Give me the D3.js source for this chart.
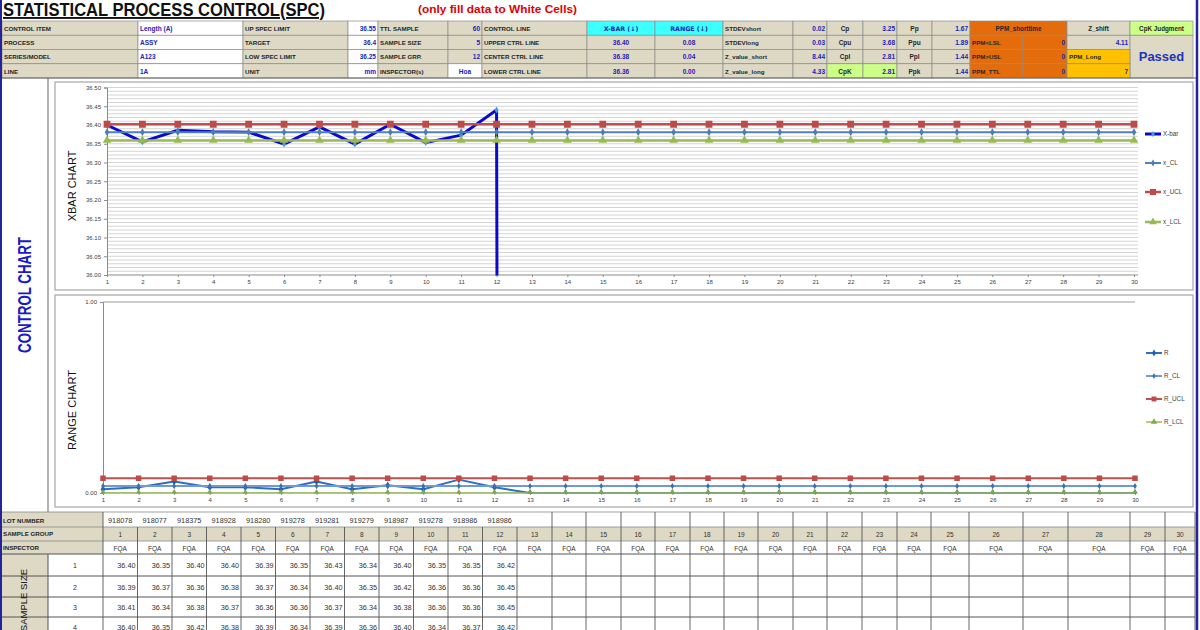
<!DOCTYPE html>
<html><head><meta charset="utf-8">
<script src="https://cdn.jsdelivr.net/npm/d3@7"></script>
<style>
body{margin:0;background:#fff}
svg{display:block}
text{font-family:"Liberation Sans",Arial,sans-serif}
</style>
</head><body>
<svg id="c" width="1200" height="630"></svg>
<script>
// ---------------- DATA ----------------
const groups = d3.range(1, 31);
const xbarValues = [36.400, 36.355, 36.386, 36.382, 36.381, 36.349, 36.395, 36.349, 36.402, 36.353, 36.373, 36.440,
  0, 0, 0, 0, 0, 0, 0, 0, 0, 0, 0, 0, 0, 0, 0, 0, 0, 0];
const xbarCL = 36.381, xbarUCL = 36.402, xbarLCL = 36.359;
const rangeValues = [0.02, 0.03, 0.06, 0.03, 0.03, 0.02, 0.06, 0.02, 0.04, 0.02, 0.07, 0.03,
  0, 0, 0, 0, 0, 0, 0, 0, 0, 0, 0, 0, 0, 0, 0, 0, 0, 0];
const rangeCL = 0.036, rangeUCL = 0.077, rangeLCL = 0;
const xbarTicks = [36.00, 36.05, 36.10, 36.15, 36.20, 36.25, 36.30, 36.35, 36.40, 36.45, 36.50];
const rangeTicks = [0.00, 1.00];
const xbarLegend = ["X-bar", "x_CL", "x_UCL", "x_LCL"];
const rangeLegend = ["R", "R_CL", "R_UCL", "R_LCL"];
const lotNumbers = ["918078","918077","918375","918928","918280","919278","919281","919279","918987","919278","918986","918986"];
const inspectors = Array(30).fill("FQA");
const sampleRows = [
  [36.40, 36.35, 36.40, 36.40, 36.39, 36.35, 36.43, 36.34, 36.40, 36.35, 36.35, 36.42],
  [36.39, 36.37, 36.36, 36.38, 36.37, 36.34, 36.40, 36.35, 36.42, 36.36, 36.36, 36.45],
  [36.41, 36.34, 36.38, 36.37, 36.36, 36.36, 36.37, 36.34, 36.38, 36.36, 36.36, 36.45],
  [36.40, 36.35, 36.42, 36.38, 36.39, 36.34, 36.39, 36.36, 36.40, 36.34, 36.37, 36.42]
];
const headerRow1 = ["CONTROL ITEM","Length  (A)","UP SPEC LIMIT","36.55","TTL SAMPLE","60","CONTROL LINE","X-BAR (\u2193)","RANGE (\u2193)","STDEVshort","0.02","Cp","3.25","Pp","1.67","PPM_shorttime",null,"Z_shift","CpK Judgment"];
const headerRow2 = ["PROCESS","ASSY","TARGET","36.4","SAMPLE SIZE","5","UPPER CTRL LINE","36.40","0.08","STDEVlong","0.03","Cpu","3.68","Ppu","1.89","PPM<LSL","0","4.11","Passed"];
const headerRow3 = ["SERIES/MODEL","A123","LOW SPEC LIMIT","36.25","SAMPLE GRP.","12","CENTER CTRL LINE","36.38","0.04","Z_value_short","8.44","Cpl","2.81","Ppl","1.44","PPM>USL","0","PPM_Long",null];
const headerRow4 = ["LINE","1A","UNIT","mm","INSPECTOR(s)","Hoa","LOWER CTRL LINE","36.36","0.00","Z_value_long","4.33","CpK","2.81","Ppk","1.44","PPM_TTL","0","7",null];

// ---------------- LAYOUT / STYLE ----------------
const svg = d3.select("#c");
const BEIGE = "#DDD9C4", CYAN = "#3CFFFF", ORANGE = "#E46C0A", YELLOW = "#FFC000", LGREEN = "#CCFF88";
const VBLUE = "#2222B8", DARK = "#262626";
const C_BLUE = "#4F81BD", C_RED = "#C0504D", C_GREEN = "#9BBB59";

// Title
svg.append("text").attr("x", 3).attr("y", 16).attr("font-size", 19).attr("font-weight", "bold")
  .attr("fill", "#111").attr("text-decoration", "underline")
  .attr("textLength", 322).attr("lengthAdjust", "spacingAndGlyphs")
  .text("STATISTICAL PROCESS CONTROL(SPC)");
svg.append("text").attr("x", 418).attr("y", 13).attr("font-size", 11.5).attr("font-weight", "bold")
  .attr("fill", "#E00000").attr("textLength", 159).attr("lengthAdjust", "spacingAndGlyphs")
  .text("(only fill data to White Cells)");

// Header table
const colX = [2,138,243,348,378,448,482,587,655,723,793,827,863,897,932,970,1023,1067,1130,1193];
const rowY = [21, 35.25, 49.5, 63.75, 78];
const headerRows = [headerRow1, headerRow2, headerRow3, headerRow4];

function cellStyle(r, c) {
  const lab = {fill: BEIGE, color: DARK, anchor: "start", size: 6.2};
  if ([0,2,4,6,9].includes(c)) return lab;
  if (c === 1) return {fill: "#fff", color: VBLUE, anchor: "start", size: 6.5};
  if (c === 3) return {fill: "#fff", color: VBLUE, anchor: "end", size: 6.5};
  if (c === 5) return r === 3 ? {fill: "#fff", color: VBLUE, anchor: "middle", size: 6.5}
                              : {fill: BEIGE, color: VBLUE, anchor: "end", size: 6.5};
  if (c === 7 || c === 8) return r === 0 ? {fill: CYAN, color: VBLUE, anchor: "middle", size: 6.3, font: "DejaVu Sans"}
                                         : {fill: BEIGE, color: VBLUE, anchor: "middle", size: 6.5};
  if (c === 10 || c === 14) return {fill: BEIGE, color: VBLUE, anchor: "end", size: 6.5};
  if (c === 11 || c === 13) return {fill: (r === 3 && c === 11) ? LGREEN : BEIGE, color: DARK, anchor: "middle", size: 6.5};
  if (c === 12) return {fill: r === 3 ? LGREEN : BEIGE, color: VBLUE, anchor: "end", size: 6.5};
  if (c === 15) return r === 0 ? {fill: ORANGE, color: DARK, anchor: "middle", size: 6.3, span: 2}
                               : {fill: ORANGE, color: DARK, anchor: "start", size: 6.2};
  if (c === 16) return {fill: ORANGE, color: VBLUE, anchor: "end", size: 6.5};
  if (c === 17) {
    if (r === 0) return {fill: BEIGE, color: DARK, anchor: "middle", size: 6.3};
    if (r === 1) return {fill: BEIGE, color: VBLUE, anchor: "end", size: 6.5};
    if (r === 2) return {fill: YELLOW, color: DARK, anchor: "start", size: 6.2};
    return {fill: YELLOW, color: VBLUE, anchor: "end", size: 6.5};
  }
  if (c === 18) return r === 0 ? {fill: LGREEN, color: DARK, anchor: "middle", size: 6.3}
                               : {fill: BEIGE, color: "#2233C0", anchor: "middle", size: 13, rspan: 3};
  return lab;
}

const hdr = svg.append("g");
headerRows.forEach((row, r) => {
  row.forEach((txt, c) => {
    if (txt === null) return;
    const s = cellStyle(r, c);
    const x0 = colX[c], x1 = colX[c + (s.span || 1)];
    const y0 = rowY[r], y1 = rowY[r + (s.rspan || 1)];
    hdr.append("rect").attr("x", x0).attr("y", y0).attr("width", x1 - x0).attr("height", y1 - y0)
      .attr("fill", s.fill).attr("stroke", "#8C8C8C").attr("stroke-width", 0.7);
    const tx = s.anchor === "start" ? x0 + 2 : s.anchor === "end" ? x1 - 2 : (x0 + x1) / 2;
    const ty = s.rspan ? (y0 + y1) / 2 + 4.5 : y0 + 9.8;
    const t = hdr.append("text").attr("x", tx).attr("y", ty).attr("text-anchor", s.anchor)
      .attr("font-size", s.size).attr("font-weight", "bold").attr("fill", s.color).text(txt);
    if (s.font) t.style("font-family", s.font);
  });
});

// Frame lines
svg.append("line").attr("x1", 0).attr("x2", 1196).attr("y1", 78).attr("y2", 78).attr("stroke", "#666").attr("stroke-width", 1);
svg.append("line").attr("x1", 48).attr("x2", 48).attr("y1", 78).attr("y2", 512).attr("stroke", "#666").attr("stroke-width", 1);
svg.append("text").attr("transform", "translate(31,295) rotate(-90)").attr("text-anchor", "middle")
  .attr("font-size", 19).attr("font-weight", "bold").attr("fill", "#1A1AC8")
  .attr("textLength", 116).attr("lengthAdjust", "spacingAndGlyphs").text("CONTROL CHART");

// ---------- generic chart drawer ----------
function drawChart(cfg) {
  const g = svg.append("g");
  g.append("rect").attr("x", cfg.box[0]).attr("y", cfg.box[1]).attr("width", cfg.box[2]).attr("height", cfg.box[3])
    .attr("fill", "#fff").attr("stroke", "#A6A6A6").attr("stroke-width", 1.2);
  const x = d3.scaleLinear().domain([1, 30]).range(cfg.xr);
  const y = d3.scaleLinear().domain(cfg.yd).range(cfg.yr);
  g.append("g").selectAll("line").data(cfg.grid).join("line")
    .attr("x1", cfg.xr[0]).attr("x2", cfg.plotRight).attr("y1", d => y(d)).attr("y2", d => y(d))
    .attr("stroke", cfg.gridColor).attr("stroke-width", 1);
  const ya = g.append("g").attr("transform", `translate(${cfg.xr[0]},0)`)
    .call(d3.axisLeft(y).tickValues(cfg.yTicks).tickFormat(d3.format(".2f")).tickSize(3).tickPadding(3));
  ya.select(".domain").attr("stroke", "#8C8C8C");
  ya.selectAll(".tick line").attr("stroke", "#8C8C8C");
  ya.selectAll("text").attr("font-size", 6).attr("fill", "#404040").attr("font-family", "Liberation Sans, Arial");
  const xa = g.append("g").attr("transform", `translate(0,${cfg.yr[0]})`)
    .call(d3.axisBottom(x).tickValues(groups).tickFormat(d3.format("d")).tickSize(2).tickPadding(3));
  xa.select(".domain").attr("stroke", "#8C8C8C").attr("d", `M${cfg.xr[0]},0H${cfg.plotRight}`);
  xa.selectAll(".tick line").attr("stroke", "#8C8C8C");
  xa.selectAll("text").attr("font-size", 6).attr("fill", "#404040").attr("font-family", "Liberation Sans, Arial");
  g.append("text").attr("transform", `translate(${cfg.titleX},${cfg.titleY}) rotate(-90)`).attr("text-anchor", "middle")
    .attr("font-size", 11).attr("fill", "#111").text(cfg.title);
  const cid = "clip" + cfg.title.replace(/\s/g, "");
  svg.append("clipPath").attr("id", cid).append("rect")
    .attr("x", cfg.xr[0] - 6).attr("y", cfg.yr[1] - 6).attr("width", cfg.plotRight - cfg.xr[0] + 12).attr("height", cfg.yr[0] - cfg.yr[1] + 6.5);
  const plot = g.append("g").attr("clip-path", `url(#${cid})`);
  const line = d3.line().x((d, i) => x(groups[i])).y(d => y(d));
  cfg.series.forEach(s => {
    plot.append("path").datum(s.values).attr("d", line).attr("fill", "none")
      .attr("stroke", s.color).attr("stroke-width", s.width).attr("stroke-linejoin", "round");
    plot.append("g").selectAll("path").data(s.values).join("path")
      .attr("transform", (d, i) => `translate(${x(groups[i])},${y(d)})`)
      .attr("d", d3.symbol().type(s.symbol).size(s.msize)).attr("fill", s.mcolor);
  });
  cfg.series.forEach((s, i) => {
    const ly = cfg.legendY[i];
    g.append("line").attr("x1", cfg.legendX).attr("x2", cfg.legendX + 16).attr("y1", ly).attr("y2", ly)
      .attr("stroke", s.color).attr("stroke-width", s.width);
    g.append("path").attr("transform", `translate(${cfg.legendX + 8},${ly})`)
      .attr("d", d3.symbol().type(s.symbol).size(s.msize * 0.8)).attr("fill", s.mcolor);
    g.append("text").attr("x", cfg.legendX + 18).attr("y", ly + 2).attr("font-size", 6.3).attr("fill", "#404040")
      .text(s.name);
  });
}

drawChart({
  box: [55, 82, 1138, 208], xr: [107, 1134], plotRight: 1138, yd: [36, 36.5], yr: [275, 87.5],
  grid: d3.range(1, 51).map(i => 36 + i * 0.01), gridColor: "#D4D4D4", yTicks: xbarTicks,
  title: "XBAR CHART", titleX: 76, titleY: 186,
  legendX: 1145, legendY: [134, 163, 192, 222],
  series: [
    {name: xbarLegend[0], values: xbarValues, color: "#0A0ACC", width: 3, symbol: d3.symbolDiamond, msize: 14, mcolor: "#4A9BE0"},
    {name: xbarLegend[1], values: groups.map(() => xbarCL), color: C_BLUE, width: 2, symbol: d3.symbolDiamond, msize: 18, mcolor: "#4A7EBB"},
    {name: xbarLegend[2], values: groups.map(() => xbarUCL), color: C_RED, width: 2.5, symbol: d3.symbolSquare, msize: 46, mcolor: "#BE4B48"},
    {name: xbarLegend[3], values: groups.map(() => xbarLCL), color: C_GREEN, width: 2.5, symbol: d3.symbolTriangle, msize: 32, mcolor: "#98B954"}
  ]
});

drawChart({
  box: [55, 295, 1138, 212], xr: [103, 1135], plotRight: 1135, yd: [0, 1], yr: [493, 302],
  grid: [1], gridColor: "#9A9A9A", yTicks: rangeTicks,
  title: "RANGE CHART", titleX: 76, titleY: 410,
  legendX: 1146, legendY: [353, 376, 399, 422],
  series: [
    {name: rangeLegend[0], values: rangeValues, color: "#2F6FC0", width: 2, symbol: d3.symbolDiamond, msize: 18, mcolor: "#1F5FAF"},
    {name: rangeLegend[1], values: groups.map(() => rangeCL), color: "#6F9BD0", width: 2, symbol: d3.symbolDiamond, msize: 12, mcolor: "#3F6FAF"},
    {name: rangeLegend[2], values: groups.map(() => rangeUCL), color: C_RED, width: 2, symbol: d3.symbolSquare, msize: 30, mcolor: "#BE4B48"},
    {name: rangeLegend[3], values: groups.map(() => rangeLCL), color: C_GREEN, width: 1.5, symbol: d3.symbolTriangle, msize: 22, mcolor: "#7FA848"}
  ]
});

// ---------------- Bottom table ----------------
const tcolX = d3.range(13).map(i => 103 + i * 34.5).concat([552, 586, 621, 655, 690, 724, 758, 793, 827, 862, 897, 931, 969, 1023, 1068, 1130, 1165, 1195]);
const trowY = [512, 527, 541, 554, 576, 597, 617, 637];
const tb = svg.append("g");
tb.append("rect").attr("x", 2).attr("y", trowY[0]).attr("width", 101).attr("height", trowY[1] - trowY[0]).attr("fill", BEIGE);
tb.append("rect").attr("x", 2).attr("y", trowY[1]).attr("width", 1193).attr("height", trowY[2] - trowY[1]).attr("fill", BEIGE);
tb.append("rect").attr("x", 2).attr("y", trowY[2]).attr("width", 101).attr("height", trowY[3] - trowY[2]).attr("fill", BEIGE);
tb.append("rect").attr("x", 2).attr("y", trowY[3]).attr("width", 46).attr("height", 640 - trowY[3]).attr("fill", BEIGE);
trowY.forEach((yy, i) => {
  tb.append("line").attr("x1", 2).attr("x2", 1195).attr("y1", yy).attr("y2", yy)
    .attr("stroke", i >= 3 ? "#555" : "#8C8C8C").attr("stroke-width", i >= 3 ? 1 : 0.8);
});
tcolX.forEach((xx, i) => {
  tb.append("line").attr("x1", xx).attr("x2", xx).attr("y1", i <= 12 && i > 0 ? trowY[1] : trowY[0]).attr("y2", 640)
    .attr("stroke", "#555").attr("stroke-width", 0.9);
});
tb.append("line").attr("x1", 48).attr("x2", 48).attr("y1", trowY[3]).attr("y2", 640).attr("stroke", "#555");
const lbl = (t, x, y) => tb.append("text").attr("x", x).attr("y", y).attr("font-size", 6.2).attr("font-weight", "bold").attr("fill", DARK).text(t);
lbl("LOT NUMBER", 3, trowY[0] + 10.5);
lbl("SAMPLE GROUP", 3, trowY[1] + 9);
lbl("INSPECTOR", 3, trowY[2] + 9);
tb.append("text").attr("transform", "translate(27,600) rotate(-90)").attr("text-anchor", "middle")
  .attr("font-size", 9.5).attr("fill", "#111").text("SAMPLE SIZE");
const rowBase = r => Math.min((trowY[3 + r] + trowY[4 + r]) / 2 + 3, 629.5);
sampleRows.forEach((row, r) => {
  tb.append("text").attr("x", 75).attr("y", rowBase(r)).attr("text-anchor", "middle")
    .attr("font-size", 7).attr("fill", "#333").text(r + 1);
});
const cx = i => (tcolX[i] + tcolX[i + 1]) / 2;
lotNumbers.forEach((t, i) => tb.append("text").attr("x", cx(i)).attr("y", trowY[0] + 10.5).attr("text-anchor", "middle")
  .attr("font-size", 7.3).attr("fill", "#333").text(t));
groups.forEach((gn, i) => tb.append("text").attr("x", cx(i)).attr("y", trowY[1] + 10).attr("text-anchor", "middle")
  .attr("font-size", 6.5).attr("fill", "#333").text(gn));
inspectors.forEach((t, i) => tb.append("text").attr("x", cx(i)).attr("y", trowY[2] + 9.5).attr("text-anchor", "middle")
  .attr("font-size", 6.5).attr("fill", "#333").text(t));
sampleRows.forEach((row, r) => {
  row.forEach((v, i) => tb.append("text").attr("x", tcolX[i + 1] - 2).attr("y", rowBase(r))
    .attr("text-anchor", "end").attr("font-size", 7.3).attr("fill", "#333").text(v.toFixed(2)));
});

// Blue outer frame
svg.append("line").attr("x1", 1).attr("x2", 1).attr("y1", 0).attr("y2", 630).attr("stroke", "#23239A").attr("stroke-width", 2);
svg.append("line").attr("x1", 1197).attr("x2", 1197).attr("y1", 0).attr("y2", 630).attr("stroke", "#23239A").attr("stroke-width", 2.5);
</script>
</body></html>
